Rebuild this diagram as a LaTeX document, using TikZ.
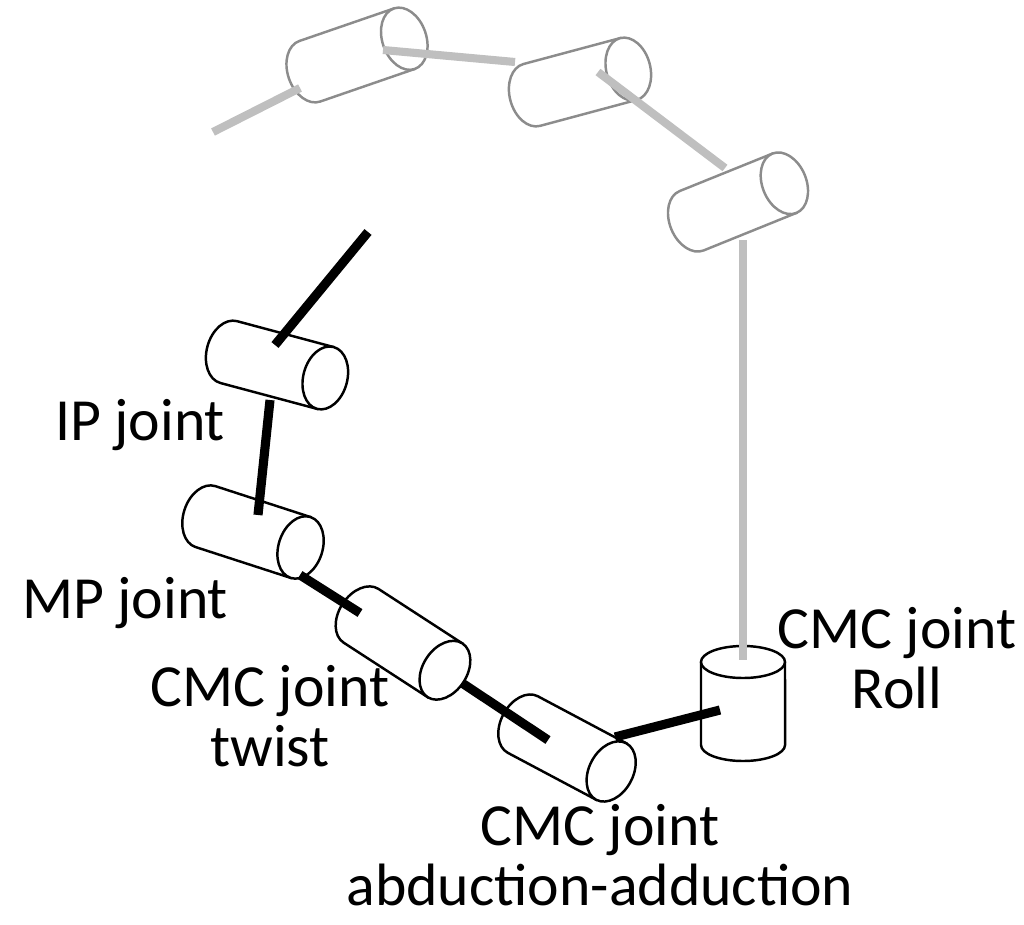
\documentclass[tikz,border=0pt]{standalone}
\usepackage{fontspec}
\setmainfont{Carlito}
\begin{document}
\begin{tikzpicture}[x=0.01cm,y=0.01cm,
  gline/.style={line width=2.3pt,color=black!25},
  bline/.style={line width=2.6pt,color=black},
  lbl/.style={font=\fontsize{17}{17}\selectfont,align=center,inner sep=0pt}]
\useasboundingbox (0,0) rectangle (1024,-924);
% cylinder: center x, center y (from top), angle, color
\newcommand\cyl[4]{%
  \begin{scope}[shift={(#1,-#2)},rotate=#3,draw=#4,line width=0.7pt]
    \filldraw[fill=white] (50,32) -- (-50,32)
      arc[start angle=90,end angle=270,x radius=0.22cm,y radius=0.32cm]
      -- (50,-32) -- cycle;
    \filldraw[fill=white] (50,0) ellipse (0.22cm and 0.32cm);
  \end{scope}}
% grey cylinders
\cyl{357}{55}{19}{black!45}
\cyl{580}{82}{15}{black!45}
\cyl{738}{202}{22}{black!45}
% black cylinders
\cyl{277}{365}{-15}{black}
\cyl{253}{532}{-18}{black}
\cyl{403}{643}{-33}{black}
\cyl{567}{748}{-28}{black}
% roll cylinder (vertical)
\filldraw[fill=white,line width=0.7pt] (701,-662) -- (701,-745)
  arc[start angle=180,end angle=360,x radius=0.42cm,y radius=0.16cm] -- (785,-662);
\filldraw[fill=white,line width=0.7pt] (743,-662) ellipse (0.42cm and 0.16cm);
% links
\draw[gline] (213,-132) -- (300,-88);
\draw[gline] (383,-50) -- (515,-62);
\draw[gline] (598,-72) -- (725,-168);
\draw[gline] (743,-240) -- (743,-660);
\draw[bline] (368,-232) -- (275,-345);
\draw[bline] (270,-400) -- (258,-515);
\draw[bline] (300,-575) -- (360,-613);
\draw[bline] (462,-683) -- (548,-740);
\draw[bline] (615,-737) -- (720,-710);
% labels
\node[lbl] (ip) at (140,-425) {IP joint};
\node[lbl] (mp) at (125,-603) {MP joint};
\node[lbl] (tw) at (270,-716) {CMC joint\\twist};
\node[lbl] (ab) at (600,-855) {CMC joint\\abduction-adduction};
\node[lbl] (ro) at (897,-658) {CMC joint\\Roll};
\end{tikzpicture}
\end{document}
